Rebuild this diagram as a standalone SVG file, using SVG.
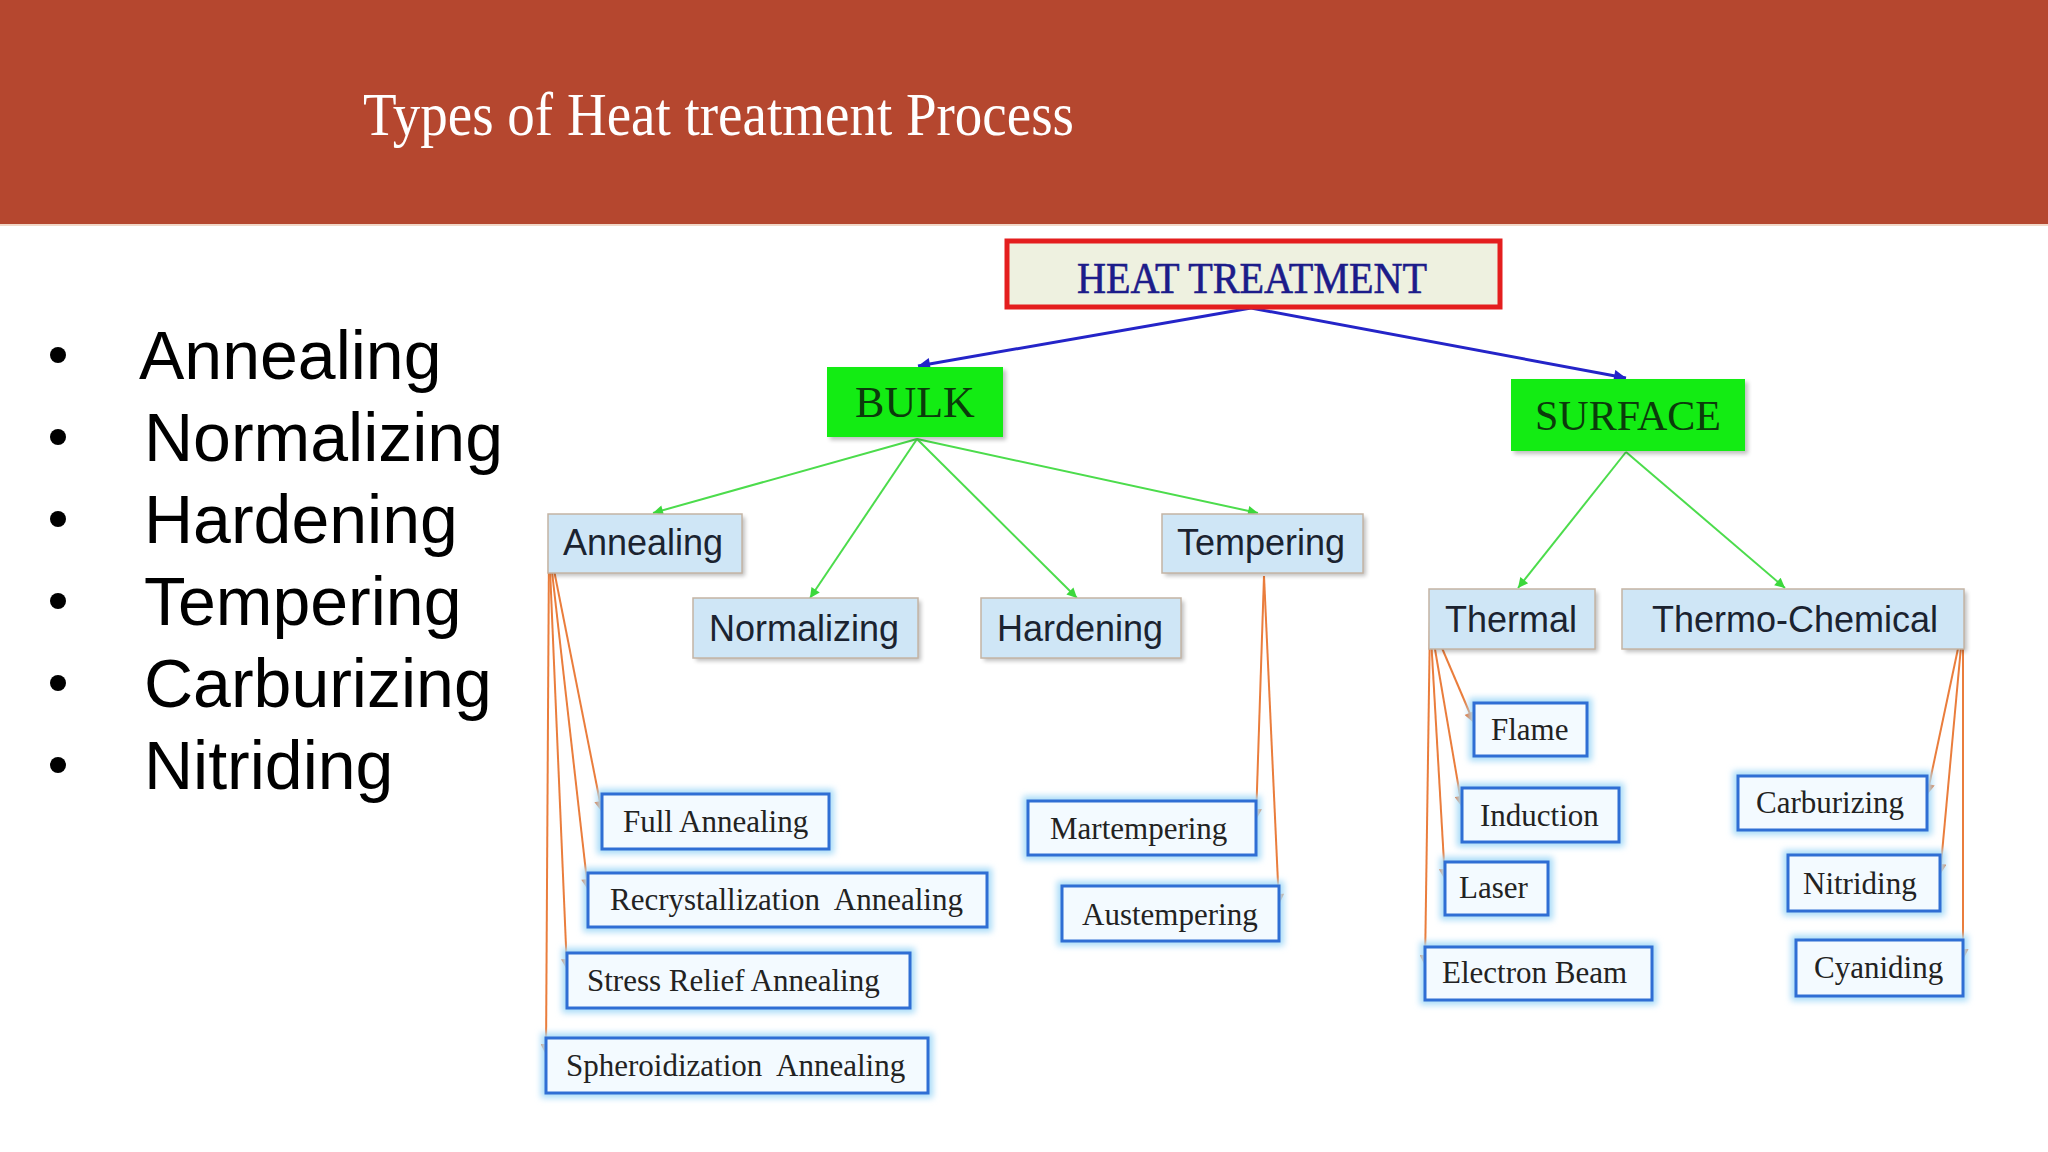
<svg xmlns="http://www.w3.org/2000/svg" width="2048" height="1152" viewBox="0 0 2048 1152">
<defs>
<style>
.bul{font-family:"Liberation Sans",Arial,sans-serif;font-size:68px;fill:#000}
.l2r{fill:#cfe6f6;stroke:#c4b4a4;stroke-width:1.5}
.l2t{font-family:"Liberation Sans",Arial,sans-serif;font-size:36px;fill:#1b2330}
.l3g{fill:none;stroke:#a9dcf8;stroke-width:10}
.l3r{fill:#f3faff;stroke:#2f6ed4;stroke-width:3}
.l3t{font-family:"Liberation Serif","Times New Roman",serif;font-size:31px;fill:#222}
.gr{fill:#13ec13}
.grt{font-family:"Liberation Serif","Times New Roman",serif;fill:#0b3b0b}
.cb{stroke:#2424c8;stroke-width:3;fill:none}
.cg{stroke:#4cdc4c;stroke-width:2;fill:none}
.co{stroke:#ea7d3c;stroke-width:2;fill:none}
</style>
<filter id="blur" x="-10%" y="-30%" width="120%" height="160%"><feGaussianBlur stdDeviation="3"/></filter>
<filter id="sh" x="-10%" y="-20%" width="130%" height="150%"><feGaussianBlur stdDeviation="2"/></filter>
<marker id="mb" viewBox="0 0 10 10" refX="10" refY="5" markerWidth="14" markerHeight="12" markerUnits="userSpaceOnUse" orient="auto"><path d="M0,0 L10,5 L0,10 z" fill="#2424c8"/></marker>
<marker id="mg" viewBox="0 0 10 10" refX="10" refY="5" markerWidth="12" markerHeight="10" markerUnits="userSpaceOnUse" orient="auto"><path d="M0,0 L10,5 L0,10 z" fill="#3cd83c"/></marker>
<marker id="mo" viewBox="0 0 10 10" refX="10" refY="5" markerWidth="13" markerHeight="11" markerUnits="userSpaceOnUse" orient="auto"><path d="M0,0 L10,5 L0,10 z" fill="#e8702c"/></marker>
</defs>
<rect x="0" y="0" width="2048" height="1152" fill="#ffffff"/>
<rect x="0" y="0" width="2048" height="224" fill="#b5472f"/>
<rect x="0" y="224" width="2048" height="2" fill="#f1d8c8"/>
<text x="363" y="135" font-family="'Liberation Serif','Times New Roman',serif" font-size="62" fill="#ffffff" textLength="711" lengthAdjust="spacingAndGlyphs">Types of Heat treatment Process</text>

<g id="bullets">
<circle cx="58" cy="355" r="8" fill="#000"/>
<circle cx="58" cy="437" r="8" fill="#000"/>
<circle cx="58" cy="519" r="8" fill="#000"/>
<circle cx="58" cy="601" r="8" fill="#000"/>
<circle cx="58" cy="683" r="8" fill="#000"/>
<circle cx="58" cy="765" r="8" fill="#000"/>
<text class="bul" x="139" y="379">Annealing</text>
<text class="bul" x="144" y="461">Normalizing</text>
<text class="bul" x="144" y="543">Hardening</text>
<text class="bul" x="144" y="625">Tempering</text>
<text class="bul" x="144" y="707">Carburizing</text>
<text class="bul" x="144" y="789">Nitriding</text>
</g>

<g id="connectors">
<path class="cb" d="M1251,308 L918,366" marker-end="url(#mb)"/>
<path class="cb" d="M1251,308 L1626,378" marker-end="url(#mb)"/>
<path class="cg" d="M917,439 L653,513" marker-end="url(#mg)"/>
<path class="cg" d="M917,439 L810,598" marker-end="url(#mg)"/>
<path class="cg" d="M917,439 L1077,598" marker-end="url(#mg)"/>
<path class="cg" d="M917,439 L1258,513" marker-end="url(#mg)"/>
<path class="cg" d="M1626,452 L1518,588" marker-end="url(#mg)"/>
<path class="cg" d="M1626,452 L1785,588" marker-end="url(#mg)"/>
<path class="co" d="M549,545 L602,812" marker-end="url(#mo)"/>
<path class="co" d="M549,545 L588,890" marker-end="url(#mo)"/>
<path class="co" d="M549,545 L567,970" marker-end="url(#mo)"/>
<path class="co" d="M549,545 L546,1055" marker-end="url(#mo)"/>
<path class="co" d="M1264,576 L1256,820" marker-end="url(#mo)"/>
<path class="co" d="M1264,576 L1279,905" marker-end="url(#mo)"/>
<path class="co" d="M1430,620 L1474,723" marker-end="url(#mo)"/>
<path class="co" d="M1430,620 L1462,807" marker-end="url(#mo)"/>
<path class="co" d="M1430,620 L1445,880" marker-end="url(#mo)"/>
<path class="co" d="M1430,620 L1425,966" marker-end="url(#mo)"/>
<path class="co" d="M1963,625 L1927,795" marker-end="url(#mo)"/>
<path class="co" d="M1963,625 L1940,875" marker-end="url(#mo)"/>
<path class="co" d="M1963,625 L1963,960" marker-end="url(#mo)"/>
</g>

<g id="heat-treatment">
<rect x="1007" y="241" width="493" height="66" fill="#eef1e0" stroke="#e41e1e" stroke-width="5"/>
<text x="1252" y="293" text-anchor="middle" font-family="'Liberation Serif','Times New Roman',serif" font-size="44" fill="#1c1c8a" stroke="#1c1c8a" stroke-width="0.6" textLength="350" lengthAdjust="spacingAndGlyphs">HEAT TREATMENT</text>
</g>

<g id="bulk">
<rect x="830" y="370" width="176" height="70" fill="#000" opacity="0.25" filter="url(#sh)"/>
<rect class="gr" x="827" y="367" width="176" height="70"/>
<text class="grt" x="915" y="417" text-anchor="middle" font-size="44">BULK</text>
</g>

<g id="surface">
<rect x="1514" y="382" width="234" height="72" fill="#000" opacity="0.25" filter="url(#sh)"/>
<rect class="gr" x="1511" y="379" width="234" height="72"/>
<text class="grt" x="1628" y="430" text-anchor="middle" font-size="42">SURFACE</text>
</g>

<g id="annealing">
<rect x="551" y="517" width="194" height="59" fill="#000" opacity="0.25" filter="url(#sh)"/>
<rect class="l2r" x="548" y="514" width="194" height="59"/>
<text class="l2t" x="563" y="555">Annealing</text>
</g>
<g id="normalizing">
<rect x="696" y="601" width="225" height="60" fill="#000" opacity="0.25" filter="url(#sh)"/>
<rect class="l2r" x="693" y="598" width="225" height="60"/>
<text class="l2t" x="709" y="641">Normalizing</text>
</g>
<g id="hardening">
<rect x="984" y="601" width="200" height="60" fill="#000" opacity="0.25" filter="url(#sh)"/>
<rect class="l2r" x="981" y="598" width="200" height="60"/>
<text class="l2t" x="997" y="641">Hardening</text>
</g>
<g id="tempering">
<rect x="1165" y="517" width="201" height="59" fill="#000" opacity="0.25" filter="url(#sh)"/>
<rect class="l2r" x="1162" y="514" width="201" height="59"/>
<text class="l2t" x="1177" y="555">Tempering</text>
</g>
<g id="thermal">
<rect x="1432" y="592" width="166" height="60" fill="#000" opacity="0.25" filter="url(#sh)"/>
<rect class="l2r" x="1429" y="589" width="166" height="60"/>
<text class="l2t" x="1445" y="632">Thermal</text>
</g>
<g id="thermo-chemical">
<rect x="1625" y="592" width="342" height="60" fill="#000" opacity="0.25" filter="url(#sh)"/>
<rect class="l2r" x="1622" y="589" width="342" height="60"/>
<text class="l2t" x="1652" y="632">Thermo-Chemical</text>
</g>

<g id="full-annealing">
<rect class="l3g" x="602" y="794" width="227" height="55" filter="url(#blur)"/>
<rect class="l3r" x="602" y="794" width="227" height="55"/>
<text class="l3t" x="623" y="832">Full Annealing</text>
</g>
<g id="recrystallization-annealing">
<rect class="l3g" x="588" y="873" width="399" height="54" filter="url(#blur)"/>
<rect class="l3r" x="588" y="873" width="399" height="54"/>
<text class="l3t" x="610" y="910" xml:space="preserve">Recrystallization  Annealing</text>
</g>
<g id="stress-relief-annealing">
<rect class="l3g" x="567" y="953" width="343" height="55" filter="url(#blur)"/>
<rect class="l3r" x="567" y="953" width="343" height="55"/>
<text class="l3t" x="587" y="991">Stress Relief Annealing</text>
</g>
<g id="spheroidization-annealing">
<rect class="l3g" x="546" y="1038" width="382" height="55" filter="url(#blur)"/>
<rect class="l3r" x="546" y="1038" width="382" height="55"/>
<text class="l3t" x="566" y="1076" xml:space="preserve">Spheroidization  Annealing</text>
</g>
<g id="martempering">
<rect class="l3g" x="1028" y="801" width="228" height="54" filter="url(#blur)"/>
<rect class="l3r" x="1028" y="801" width="228" height="54"/>
<text class="l3t" x="1050" y="839">Martempering</text>
</g>
<g id="austempering">
<rect class="l3g" x="1062" y="886" width="217" height="55" filter="url(#blur)"/>
<rect class="l3r" x="1062" y="886" width="217" height="55"/>
<text class="l3t" x="1082" y="925">Austempering</text>
</g>
<g id="flame">
<rect class="l3g" x="1474" y="703" width="113" height="53" filter="url(#blur)"/>
<rect class="l3r" x="1474" y="703" width="113" height="53"/>
<text class="l3t" x="1491" y="740">Flame</text>
</g>
<g id="induction">
<rect class="l3g" x="1462" y="788" width="157" height="54" filter="url(#blur)"/>
<rect class="l3r" x="1462" y="788" width="157" height="54"/>
<text class="l3t" x="1480" y="826">Induction</text>
</g>
<g id="laser">
<rect class="l3g" x="1445" y="862" width="103" height="53" filter="url(#blur)"/>
<rect class="l3r" x="1445" y="862" width="103" height="53"/>
<text class="l3t" x="1459" y="898">Laser</text>
</g>
<g id="electron-beam">
<rect class="l3g" x="1425" y="947" width="227" height="53" filter="url(#blur)"/>
<rect class="l3r" x="1425" y="947" width="227" height="53"/>
<text class="l3t" x="1442" y="983">Electron Beam</text>
</g>
<g id="carburizing">
<rect class="l3g" x="1738" y="776" width="189" height="54" filter="url(#blur)"/>
<rect class="l3r" x="1738" y="776" width="189" height="54"/>
<text class="l3t" x="1756" y="813">Carburizing</text>
</g>
<g id="nitriding">
<rect class="l3g" x="1788" y="855" width="152" height="56" filter="url(#blur)"/>
<rect class="l3r" x="1788" y="855" width="152" height="56"/>
<text class="l3t" x="1803" y="894">Nitriding</text>
</g>
<g id="cyaniding">
<rect class="l3g" x="1796" y="940" width="167" height="56" filter="url(#blur)"/>
<rect class="l3r" x="1796" y="940" width="167" height="56"/>
<text class="l3t" x="1814" y="978">Cyaniding</text>
</g>
</svg>
